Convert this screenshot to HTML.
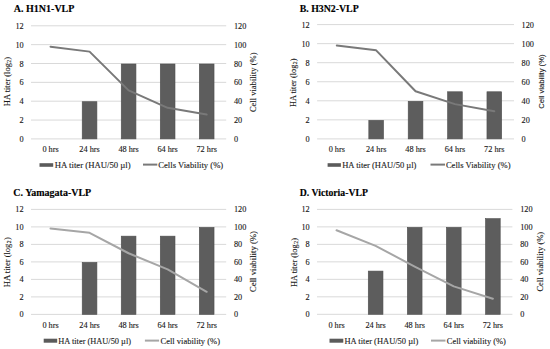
<!DOCTYPE html>
<html><head><meta charset="utf-8"><title>HA titer and cell viability</title>
<style>
html,body{margin:0;padding:0;background:#fff;}
body{width:550px;height:349px;overflow:hidden;}
svg{display:block;}
text{font-family:"Liberation Serif", serif;fill:#1a1a1a;stroke:#1a1a1a;stroke-width:0.12px;}
.t{font-weight:bold;font-size:10.1px;fill:#000;stroke:#000;stroke-width:0.15px;}
.tk{font-size:8.25px;}
.lg{font-size:8.7px;}
.at{font-size:8.7px;}
.sans{font-family:"Liberation Sans", sans-serif;font-size:7.6px;}
</style></head><body>
<svg width="550" height="349" viewBox="0 0 550 349">
<g>
<text class="t" x="13.8" y="12.4" textLength="60.6" lengthAdjust="spacingAndGlyphs">A. H1N1-VLP</text>
<line x1="31" x2="226.2" y1="138.9" y2="138.9" stroke="#d9d9d9" stroke-width="1"/>
<line x1="31" x2="226.2" y1="120.05" y2="120.05" stroke="#d9d9d9" stroke-width="1"/>
<line x1="31" x2="226.2" y1="101.2" y2="101.2" stroke="#d9d9d9" stroke-width="1"/>
<line x1="31" x2="226.2" y1="82.35" y2="82.35" stroke="#d9d9d9" stroke-width="1"/>
<line x1="31" x2="226.2" y1="63.5" y2="63.5" stroke="#d9d9d9" stroke-width="1"/>
<line x1="31" x2="226.2" y1="44.65" y2="44.65" stroke="#d9d9d9" stroke-width="1"/>
<line x1="31" x2="226.2" y1="25.8" y2="25.8" stroke="#d9d9d9" stroke-width="1"/>
<text class="tk" x="23.7" y="141.9" text-anchor="end">0</text>
<text class="tk" x="23.7" y="123.05" text-anchor="end">2</text>
<text class="tk" x="23.7" y="104.2" text-anchor="end">4</text>
<text class="tk" x="23.7" y="85.35" text-anchor="end">6</text>
<text class="tk" x="23.7" y="66.5" text-anchor="end">8</text>
<text class="tk" x="23.7" y="47.65" text-anchor="end">10</text>
<text class="tk" x="23.7" y="28.8" text-anchor="end">12</text>
<text class="tk" x="233.9" y="141.9">0</text>
<text class="tk" x="233.9" y="123.05">20</text>
<text class="tk" x="233.9" y="104.2">40</text>
<text class="tk" x="233.9" y="85.35">60</text>
<text class="tk" x="233.9" y="66.5">80</text>
<text class="tk" x="233.9" y="47.65">100</text>
<text class="tk" x="233.9" y="28.8">120</text>
<rect x="82.21" y="101.7" width="14.7" height="37.2" fill="#5d5d5d" stroke="#4e4e4e" stroke-width="0.6"/>
<rect x="121.25" y="64" width="14.7" height="74.9" fill="#5d5d5d" stroke="#4e4e4e" stroke-width="0.6"/>
<rect x="160.29" y="64" width="14.7" height="74.9" fill="#5d5d5d" stroke="#4e4e4e" stroke-width="0.6"/>
<rect x="199.33" y="64" width="14.7" height="74.9" fill="#5d5d5d" stroke="#4e4e4e" stroke-width="0.6"/>
<polyline points="50.52,46.72 89.56,51.62 128.6,90.36 167.64,107.8 206.68,114.58" fill="none" stroke="#797979" stroke-width="2" stroke-linejoin="round" stroke-linecap="round"/>
<text class="tk" x="50.52" y="152.1" text-anchor="middle">0 hrs</text>
<text class="tk" x="89.56" y="152.1" text-anchor="middle">24 hrs</text>
<text class="tk" x="128.6" y="152.1" text-anchor="middle">48 hrs</text>
<text class="tk" x="167.64" y="152.1" text-anchor="middle">64 hrs</text>
<text class="tk" x="206.68" y="152.1" text-anchor="middle">72 hrs</text>
<text class="at" transform="translate(7,81.5) rotate(-90)" text-anchor="middle" dominant-baseline="central" textLength="49.3" lengthAdjust="spacingAndGlyphs">HA titer (log<tspan font-size="5.8" dx="0.5" dy="2">2</tspan><tspan dy="-2" dx="0.2">)</tspan></text>
<text class="at" transform="translate(253.4,82.3) rotate(-90)" text-anchor="middle" dominant-baseline="central" textLength="59.6" lengthAdjust="spacingAndGlyphs">Cell viability (%)</text>
<rect x="39.5" y="163.2" width="13.7" height="3.6" fill="#5b5b5b"/>
<text class="lg" x="54.8" y="167.8" textLength="75.9" lengthAdjust="spacingAndGlyphs">HA titer (HAU/50 µl)</text>
<line x1="143" x2="157.3" y1="164.6" y2="164.6" stroke="#797979" stroke-width="2"/>
<text class="lg" x="158.3" y="167.8" textLength="64.9" lengthAdjust="spacingAndGlyphs">Cells Viability (%)</text>
</g>
<g>
<text class="t" x="299.7" y="11.8" textLength="59" lengthAdjust="spacingAndGlyphs">B. H3N2-VLP</text>
<line x1="317.1" x2="514" y1="138.9" y2="138.9" stroke="#d9d9d9" stroke-width="1"/>
<line x1="317.1" x2="514" y1="119.85" y2="119.85" stroke="#d9d9d9" stroke-width="1"/>
<line x1="317.1" x2="514" y1="100.8" y2="100.8" stroke="#d9d9d9" stroke-width="1"/>
<line x1="317.1" x2="514" y1="81.75" y2="81.75" stroke="#d9d9d9" stroke-width="1"/>
<line x1="317.1" x2="514" y1="62.7" y2="62.7" stroke="#d9d9d9" stroke-width="1"/>
<line x1="317.1" x2="514" y1="43.65" y2="43.65" stroke="#d9d9d9" stroke-width="1"/>
<line x1="317.1" x2="514" y1="24.6" y2="24.6" stroke="#d9d9d9" stroke-width="1"/>
<text class="tk" x="309.7" y="141.9" text-anchor="end">0</text>
<text class="tk" x="309.7" y="122.85" text-anchor="end">2</text>
<text class="tk" x="309.7" y="103.8" text-anchor="end">4</text>
<text class="tk" x="309.7" y="84.75" text-anchor="end">6</text>
<text class="tk" x="309.7" y="65.7" text-anchor="end">8</text>
<text class="tk" x="309.7" y="46.65" text-anchor="end">10</text>
<text class="tk" x="309.7" y="27.6" text-anchor="end">12</text>
<text class="tk" x="521.6" y="141.9">0</text>
<text class="tk" x="521.6" y="122.85">20</text>
<text class="tk" x="521.6" y="103.8">40</text>
<text class="tk" x="521.6" y="84.75">60</text>
<text class="tk" x="521.6" y="65.7">80</text>
<text class="tk" x="521.6" y="46.65">100</text>
<text class="tk" x="521.6" y="27.6">120</text>
<rect x="368.82" y="120.35" width="14.7" height="18.55" fill="#5d5d5d" stroke="#4e4e4e" stroke-width="0.6"/>
<rect x="408.2" y="101.3" width="14.7" height="37.6" fill="#5d5d5d" stroke="#4e4e4e" stroke-width="0.6"/>
<rect x="447.58" y="91.78" width="14.7" height="47.12" fill="#5d5d5d" stroke="#4e4e4e" stroke-width="0.6"/>
<rect x="486.96" y="91.78" width="14.7" height="47.12" fill="#5d5d5d" stroke="#4e4e4e" stroke-width="0.6"/>
<polyline points="336.79,45.55 376.17,50.32 415.55,91.28 454.93,104.13 494.31,111.28" fill="none" stroke="#797979" stroke-width="2" stroke-linejoin="round" stroke-linecap="round"/>
<text class="tk" x="336.79" y="152.1" text-anchor="middle">0 hrs</text>
<text class="tk" x="376.17" y="152.1" text-anchor="middle">24 hrs</text>
<text class="tk" x="415.55" y="152.1" text-anchor="middle">48 hrs</text>
<text class="tk" x="454.93" y="152.1" text-anchor="middle">64 hrs</text>
<text class="tk" x="494.31" y="152.1" text-anchor="middle">72 hrs</text>
<text class="at" transform="translate(293,82.8) rotate(-90)" text-anchor="middle" dominant-baseline="central" textLength="48.6" lengthAdjust="spacingAndGlyphs">HA titer (log<tspan font-size="5.8" dx="0.5" dy="2">2</tspan><tspan dy="-2" dx="0.2">)</tspan></text>
<text class="sans" transform="translate(541.4,81.6) rotate(-90)" text-anchor="middle" dominant-baseline="central" textLength="54.1" lengthAdjust="spacingAndGlyphs">Cell viability (%)</text>
<rect x="327.6" y="163.2" width="13.3" height="3.6" fill="#5b5b5b"/>
<text class="lg" x="342.2" y="167.8" textLength="74.2" lengthAdjust="spacingAndGlyphs">HA titer (HAU/50 µl)</text>
<line x1="430.5" x2="445" y1="164.6" y2="164.6" stroke="#797979" stroke-width="2"/>
<text class="lg" x="445.9" y="167.8" textLength="64.6" lengthAdjust="spacingAndGlyphs">Cells Viability (%)</text>
</g>
<g>
<text class="t" x="13.3" y="196" textLength="77.9" lengthAdjust="spacingAndGlyphs">C. Yamagata-VLP</text>
<line x1="31" x2="226.2" y1="314.4" y2="314.4" stroke="#d9d9d9" stroke-width="1"/>
<line x1="31" x2="226.2" y1="296.9" y2="296.9" stroke="#d9d9d9" stroke-width="1"/>
<line x1="31" x2="226.2" y1="279.4" y2="279.4" stroke="#d9d9d9" stroke-width="1"/>
<line x1="31" x2="226.2" y1="261.9" y2="261.9" stroke="#d9d9d9" stroke-width="1"/>
<line x1="31" x2="226.2" y1="244.4" y2="244.4" stroke="#d9d9d9" stroke-width="1"/>
<line x1="31" x2="226.2" y1="226.9" y2="226.9" stroke="#d9d9d9" stroke-width="1"/>
<line x1="31" x2="226.2" y1="209.4" y2="209.4" stroke="#d9d9d9" stroke-width="1"/>
<text class="tk" x="23.5" y="317.4" text-anchor="end">0</text>
<text class="tk" x="23.5" y="299.9" text-anchor="end">2</text>
<text class="tk" x="23.5" y="282.4" text-anchor="end">4</text>
<text class="tk" x="23.5" y="264.9" text-anchor="end">6</text>
<text class="tk" x="23.5" y="247.4" text-anchor="end">8</text>
<text class="tk" x="23.5" y="229.9" text-anchor="end">10</text>
<text class="tk" x="23.5" y="212.4" text-anchor="end">12</text>
<text class="tk" x="233.9" y="317.4">0</text>
<text class="tk" x="233.9" y="299.9">20</text>
<text class="tk" x="233.9" y="282.4">40</text>
<text class="tk" x="233.9" y="264.9">60</text>
<text class="tk" x="233.9" y="247.4">80</text>
<text class="tk" x="233.9" y="229.9">100</text>
<text class="tk" x="233.9" y="212.4">120</text>
<rect x="82.21" y="262.4" width="14.7" height="52" fill="#5d5d5d" stroke="#4e4e4e" stroke-width="0.6"/>
<rect x="121.25" y="236.15" width="14.7" height="78.25" fill="#5d5d5d" stroke="#4e4e4e" stroke-width="0.6"/>
<rect x="160.29" y="236.15" width="14.7" height="78.25" fill="#5d5d5d" stroke="#4e4e4e" stroke-width="0.6"/>
<rect x="199.33" y="227.4" width="14.7" height="87" fill="#5d5d5d" stroke="#4e4e4e" stroke-width="0.6"/>
<polyline points="50.52,228.47 89.56,232.85 128.6,253.24 167.64,269.34 206.68,291.82" fill="none" stroke="#a6a6a6" stroke-width="2" stroke-linejoin="round" stroke-linecap="round"/>
<text class="tk" x="50.52" y="328.2" text-anchor="middle">0 hrs</text>
<text class="tk" x="89.56" y="328.2" text-anchor="middle">24 hrs</text>
<text class="tk" x="128.6" y="328.2" text-anchor="middle">48 hrs</text>
<text class="tk" x="167.64" y="328.2" text-anchor="middle">64 hrs</text>
<text class="tk" x="206.68" y="328.2" text-anchor="middle">72 hrs</text>
<text class="at" transform="translate(7.1,262.2) rotate(-90)" text-anchor="middle" dominant-baseline="central" textLength="49.9" lengthAdjust="spacingAndGlyphs">HA titer (log<tspan font-size="5.8" dx="0.5" dy="2">2</tspan><tspan dy="-2" dx="0.2">)</tspan></text>
<text class="at" transform="translate(253.2,261.5) rotate(-90)" text-anchor="middle" dominant-baseline="central" textLength="61" lengthAdjust="spacingAndGlyphs">Cell viability (%)</text>
<rect x="43.7" y="338.7" width="13.5" height="4" fill="#5b5b5b"/>
<text class="lg" x="58.3" y="344" textLength="72.7" lengthAdjust="spacingAndGlyphs">HA titer (HAU/50 µl)</text>
<line x1="144.9" x2="159.1" y1="340.6" y2="340.6" stroke="#a6a6a6" stroke-width="2"/>
<text class="lg" x="160.5" y="344" textLength="59.5" lengthAdjust="spacingAndGlyphs">Cell viability (%)</text>
</g>
<g>
<text class="t" x="299.8" y="196" textLength="68.1" lengthAdjust="spacingAndGlyphs">D. Victoria-VLP</text>
<line x1="317" x2="512.4" y1="314.3" y2="314.3" stroke="#d9d9d9" stroke-width="1"/>
<line x1="317" x2="512.4" y1="296.82" y2="296.82" stroke="#d9d9d9" stroke-width="1"/>
<line x1="317" x2="512.4" y1="279.33" y2="279.33" stroke="#d9d9d9" stroke-width="1"/>
<line x1="317" x2="512.4" y1="261.85" y2="261.85" stroke="#d9d9d9" stroke-width="1"/>
<line x1="317" x2="512.4" y1="244.37" y2="244.37" stroke="#d9d9d9" stroke-width="1"/>
<line x1="317" x2="512.4" y1="226.88" y2="226.88" stroke="#d9d9d9" stroke-width="1"/>
<line x1="317" x2="512.4" y1="209.4" y2="209.4" stroke="#d9d9d9" stroke-width="1"/>
<text class="tk" x="309.7" y="317.3" text-anchor="end">0</text>
<text class="tk" x="309.7" y="299.82" text-anchor="end">2</text>
<text class="tk" x="309.7" y="282.33" text-anchor="end">4</text>
<text class="tk" x="309.7" y="264.85" text-anchor="end">6</text>
<text class="tk" x="309.7" y="247.37" text-anchor="end">8</text>
<text class="tk" x="309.7" y="229.88" text-anchor="end">10</text>
<text class="tk" x="309.7" y="212.4" text-anchor="end">12</text>
<text class="tk" x="520.2" y="317.3">0</text>
<text class="tk" x="520.2" y="299.82">20</text>
<text class="tk" x="520.2" y="282.33">40</text>
<text class="tk" x="520.2" y="264.85">60</text>
<text class="tk" x="520.2" y="247.37">80</text>
<text class="tk" x="520.2" y="229.88">100</text>
<text class="tk" x="520.2" y="212.4">120</text>
<rect x="368.27" y="271.09" width="14.7" height="43.21" fill="#5d5d5d" stroke="#4e4e4e" stroke-width="0.6"/>
<rect x="407.35" y="227.38" width="14.7" height="86.92" fill="#5d5d5d" stroke="#4e4e4e" stroke-width="0.6"/>
<rect x="446.43" y="227.38" width="14.7" height="86.92" fill="#5d5d5d" stroke="#4e4e4e" stroke-width="0.6"/>
<rect x="485.51" y="218.64" width="14.7" height="95.66" fill="#5d5d5d" stroke="#4e4e4e" stroke-width="0.6"/>
<polyline points="336.54,230.29 375.62,245.85 414.7,266.57 453.78,286.33 492.86,298.74" fill="none" stroke="#a6a6a6" stroke-width="2" stroke-linejoin="round" stroke-linecap="round"/>
<text class="tk" x="336.54" y="328.2" text-anchor="middle">0 hrs</text>
<text class="tk" x="375.62" y="328.2" text-anchor="middle">24 hrs</text>
<text class="tk" x="414.7" y="328.2" text-anchor="middle">48 hrs</text>
<text class="tk" x="453.78" y="328.2" text-anchor="middle">64 hrs</text>
<text class="tk" x="492.86" y="328.2" text-anchor="middle">72 hrs</text>
<text class="at" transform="translate(294,262.5) rotate(-90)" text-anchor="middle" dominant-baseline="central" textLength="48.9" lengthAdjust="spacingAndGlyphs">HA titer (log<tspan font-size="5.8" dx="0.5" dy="2">2</tspan><tspan dy="-2" dx="0.2">)</tspan></text>
<text class="at" transform="translate(540.4,261.7) rotate(-90)" text-anchor="middle" dominant-baseline="central" textLength="59.8" lengthAdjust="spacingAndGlyphs">Cell viability (%)</text>
<rect x="329.5" y="338.7" width="13.8" height="4" fill="#5b5b5b"/>
<text class="lg" x="344.5" y="344" textLength="73.7" lengthAdjust="spacingAndGlyphs">HA titer (HAU/50 µl)</text>
<line x1="431" x2="445.5" y1="340.6" y2="340.6" stroke="#a6a6a6" stroke-width="2"/>
<text class="lg" x="446.8" y="344" textLength="59.1" lengthAdjust="spacingAndGlyphs">Cell viability (%)</text>
</g>
</svg>
</body></html>
